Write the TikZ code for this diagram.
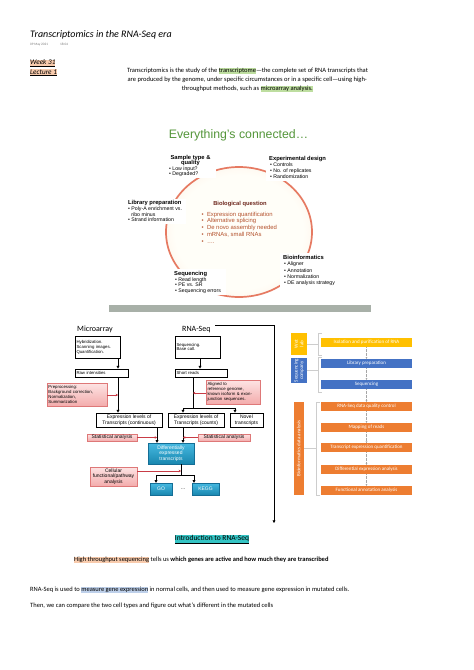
\documentclass[tikz,border=0pt]{standalone}
\usepackage{fontspec}
\setmainfont{Carlito}
\newfontfamily\arialf{Liberation Sans}
\usetikzlibrary{arrows.meta}
\definecolor{hlgreen}{RGB}{190,222,160}
\definecolor{hlorange}{RGB}{248,203,173}
\definecolor{hlcyan}{RGB}{52,196,196}
\definecolor{hlblue}{RGB}{190,208,234}
\definecolor{evgreen}{RGB}{84,150,58}
\definecolor{cinner}{RGB}{255,254,248}
\definecolor{couter}{RGB}{248,210,184}
\definecolor{cborder}{RGB}{230,122,98}
\definecolor{bqtitle}{RGB}{110,40,30}
\definecolor{bqtext}{RGB}{180,82,45}
\definecolor{pinktop}{RGB}{253,228,228}
\definecolor{pinkbot}{RGB}{243,172,172}
\definecolor{pinkdraw}{RGB}{222,120,120}
\definecolor{redarr}{RGB}{200,60,70}
\definecolor{detop}{RGB}{70,185,225}
\definecolor{debot}{RGB}{25,135,175}
\definecolor{dedraw}{RGB}{20,110,150}
\definecolor{wyellow}{RGB}{255,192,0}
\definecolor{wblue}{RGB}{68,114,196}
\definecolor{worange}{RGB}{237,125,49}
\definecolor{bargray}{RGB}{168,176,168}
\definecolor{datec}{RGB}{120,120,120}
\definecolor{brkgray}{RGB}{205,205,205}
\pgfdeclareradialshading{circsh}{\pgfpoint{0bp}{0bp}}{color(0bp)=(cinner); color(22bp)=(cinner); color(50bp)=(couter); color(52bp)=(couter)}
\newcommand\hlbox[2]{\begingroup\setlength{\fboxsep}{0pt}\colorbox{#1}{\vphantom{Ag}#2}\endgroup}
\tikzset{
  txt/.style={inner sep=0pt, anchor=base west, font=\fontsize{6.5}{7.8}\selectfont},
  ctxt/.style={txt, anchor=base},
  cl/.style={inner sep=0pt, anchor=base west, font=\arialf\fontsize{5.2}{6}\selectfont},
  clt/.style={inner sep=0pt, anchor=base west, font=\arialf\bfseries\fontsize{5.8}{6.5}\selectfont},
  bq/.style={inner sep=0pt, anchor=base west, text=bqtext, font=\arialf\fontsize{5.9}{7}\selectfont},
  flowbox/.style={draw=black, line width=0.9pt, fill=white, inner sep=1.5pt, align=left, font=\arialf\fontsize{4.3}{4.9}\selectfont},
  expbox/.style={draw=black, line width=0.9pt, fill=white, inner sep=0.5pt, align=center, font=\arialf\fontsize{5}{5.6}\selectfont},
  pinkbox/.style={draw=pinkdraw, line width=0.4pt, top color=pinktop, bottom color=pinkbot, inner sep=1.5pt, align=left, font=\arialf\fontsize{4.3}{4.9}\selectfont},
  pinkc/.style={pinkbox, align=center, font=\arialf\fontsize{5}{5.6}\selectfont},
  debox/.style={draw=dedraw, line width=0.4pt, top color=detop, bottom color=debot, inner sep=0.5pt, align=center, text=white, font=\arialf\fontsize{5}{5.6}\selectfont},
  arr/.style={draw=black, line width=0.8pt, -{Triangle[length=2.6pt,width=2.8pt]}},
  rarr/.style={draw=redarr, line width=0.6pt, -{Stealth[length=2.4pt,width=2.6pt]}},
  bar/.style={inner sep=0pt, minimum width=91pt, minimum height=9pt, text=white, font=\fontsize{5}{6}\selectfont},
  sidebox/.style={inner sep=0pt, rotate=90, text=white, align=center, font=\fontsize{5}{5.6}\selectfont},
  darr/.style={draw=gray!70, line width=0.35pt, densely dotted, -{Stealth[length=1.6pt,width=1.6pt]}},
  brk/.style={draw=brkgray, line width=0.5pt},
  lab/.style={inner sep=0pt, anchor=base west, font=\fontsize{8}{9}\selectfont}
}
\begin{document}
\begin{tikzpicture}[x=1pt,y=-1pt]
\useasboundingbox (0,0) rectangle (474,670);
\fill[white] (0,0) rectangle (474,670);

% ---------- header ----------
\node[txt, font=\itshape\fontsize{10}{12}\selectfont] (title) at (30,37.5) {Transcriptomics in the RNA-Seq era};
\node[txt, text=datec, font=\fontsize{3.4}{4}\selectfont] (date) at (30,45) {09 May 2021};
\node[txt, text=datec, font=\fontsize{3.4}{4}\selectfont] (time) at (60,45) {18:04};
\node[txt, font=\itshape\fontsize{7.2}{8.6}\selectfont] (week) at (30,64.5) {\hlbox{hlorange}{\underline{Week 31}}};
\node[txt, font=\itshape\fontsize{7.2}{8.6}\selectfont] (lect) at (30,74) {\hlbox{hlorange}{\underline{Lecture 1}}};
\node[ctxt] (p1) at (247.5,72.7) {Transcriptomics is the study of the \hlbox{hlgreen}{transcriptome}—the complete set of RNA transcripts that};
\node[ctxt] (p2) at (247.3,81.7) {are produced by the genome, under specific circumstances or in a specific cell—using high-};
\node[ctxt] (p3) at (247.3,90.7) {throughput methods, such as \hlbox{hlgreen}{microarray analysis.}};

% ---------- everything's connected ----------
\node[inner sep=0pt, anchor=base, text=evgreen, font=\arialf\fontsize{12.3}{14}\selectfont] (evc) at (238.5,138.3) {Everything’s connected…};
\shade[shading=circsh] (239,232) ellipse (73pt and 65pt);
\draw[cborder, line width=1.7pt] (239,232) ellipse (73pt and 65pt);

\fill[white] (165,153) rectangle (216,178);
\fill[white] (266,155) rectangle (330,181);
\fill[white] (125,199) rectangle (186,224);
\fill[white] (280,253) rectangle (340,287);
\fill[white] (171,269) rectangle (226,295);

\node[clt, anchor=base] (st1) at (190.5,159.4) {Sample type \&};
\node[clt, anchor=base] (st2) at (190.5,164.9) {quality};
\node[cl] (st3) at (169,170.2) {\textbullet\ Low input?};
\node[cl] (st4) at (169,175.4) {\textbullet\ Degraded?};

\node[clt] (ed1) at (269,160.7) {Experimental design};
\node[cl] (ed2) at (270,166.7) {\textbullet\ Controls};
\node[cl] (ed3) at (270,172.7) {\textbullet\ No. of replicates};
\node[cl] (ed4) at (270,178.7) {\textbullet\ Randomization};

\node[clt] (lp1) at (128,204.4) {Library preparation};
\node[cl] (lp2) at (128,210.7) {\textbullet\ Poly-A enrichment vs.};
\node[cl] (lp3) at (128,216.2) {\phantom{\textbullet}\ ribo minus};
\node[cl] (lp4) at (128,221.7) {\textbullet\ Strand information};

\node[clt, anchor=base, text=bqtitle, font=\arialf\bfseries\fontsize{5.8}{7}\selectfont] (bq1) at (240,205.7) {Biological question};
\node[bq] (bq2) at (201.5,216) {\textbullet\ \ Expression quantification};
\node[bq] (bq3) at (201.5,222.8) {\textbullet\ \ Alternative splicing};
\node[bq] (bq4) at (201.5,229.7) {\textbullet\ \ De novo assembly needed};
\node[bq] (bq5) at (201.5,236.6) {\textbullet\ \ mRNAs, small RNAs};
\node[bq] (bq6) at (201.5,243.5) {\textbullet\ \ ….};

\node[clt] (bi1) at (283,259.4) {Bioinformatics};
\node[cl] (bi2) at (284,265.7) {\textbullet\ Aligner};
\node[cl] (bi3) at (284,272.2) {\textbullet\ Annotation};
\node[cl] (bi4) at (284,278.3) {\textbullet\ Normalization};
\node[cl] (bi5) at (284,284.4) {\textbullet\ DE analysis strategy};

\node[clt] (sq1) at (174,275) {Sequencing};
\node[cl] (sq2) at (175,281) {\textbullet\ Read length};
\node[cl] (sq3) at (175,286.8) {\textbullet\ PE vs. SR};
\node[cl] (sq4) at (175,292.7) {\textbullet\ Sequencing errors};

% ---------- separator ----------
\fill[bargray] (109,305) rectangle (371,312);

% ---------- microarray / RNA-seq flow ----------
\node[lab] (micro) at (77,331) {Microarray};
\node[lab] (rnaseq) at (182,331) {RNA-Seq};

\node[flowbox, text width=42pt, minimum height=22pt] (hyb) at (97.5,347) {Hybridization.\\Scanning images.\\Quantification.};
\node[flowbox, text width=50pt, minimum height=8pt] (raw) at (101.5,373) {Raw intensities};
\node[pinkbox, text width=57pt, minimum height=23pt] (pre) at (77,394.5) {Preprocessing:\\Background correction,\\Normalization,\\Summarization};

\node[flowbox, text width=42pt, minimum height=22pt] (seq) at (197.5,347) {Sequencing.\\Base call.};
\node[flowbox, text width=49pt, minimum height=8pt] (short) at (201,373) {Short reads};
\node[pinkbox, text width=51pt, minimum height=24pt] (align) at (233,392) {Aligned to\\reference genome,\\known isoform \& exon-\\junction sequences.};

\node[expbox, minimum width=66pt, minimum height=14pt] (cont) at (129,420) {Expression levels of\\Transcripts (continuous)};
\node[expbox, minimum width=56pt, minimum height=14pt] (counts) at (196,420) {Expression levels of\\Transcripts (counts)};
\node[expbox, minimum width=33pt, minimum height=14pt] (novel) at (246.5,420) {Novel\\transcripts};

\node[pinkc, minimum width=50pt, minimum height=7pt, inner sep=0.3pt] (statl) at (112,437.5) {Statistical analysis};
\node[pinkc, minimum width=52pt, minimum height=7pt, inner sep=0.3pt] (statr) at (224,437.5) {Statistical analysis};
\node[debox, minimum width=46pt, minimum height=21pt] (de) at (171,453.5) {Differentially\\expressed\\transcripts};
\node[pinkc, minimum width=47pt, minimum height=19pt, inner sep=0.3pt] (cell) at (113.5,476.5) {Cellular\\functional/pathway\\analysis};
\node[debox, minimum width=22pt, minimum height=12pt] (go) at (161,489) {GO};
\node[inner sep=0pt, font=\arialf\fontsize{5}{6}\selectfont] (dots) at (183,489.5) {…};
\node[debox, minimum width=27pt, minimum height=12pt] (kegg) at (205.5,489) {KEGG};

\coordinate (j1) at (118,395);
\coordinate (j2) at (193,393);
\coordinate (j3) at (157,437.5);
\coordinate (j4) at (183,437.5);
\coordinate (j5) at (181,471);
\coordinate (b1) at (193,408);
\coordinate (b2) at (181,475);
\coordinate (r0) at (215,325);
\coordinate (r1) at (274,325);
\coordinate (rend) at (274,523);

\draw[arr] (hyb.south -| j1) -- (raw.north -| j1);
\draw[arr] (raw.south -| j1) -- (cont.north -| j1);
\draw[rarr] (pre.east |- j1) -- (j1);
\draw[arr] (seq.south -| 200,0) -- (short.north -| 200,0);
\draw[line width=0.8pt] (short.south -| b1) -- (b1);
\draw[arr] (b1) -| (counts.north -| j4);
\draw[arr] (b1) -| (novel.north -| 235,0);
\draw[rarr] (align.west |- j2) -- (j2);
\draw[arr] (cont.south -| j3) -- (de.north -| j3);
\draw[arr] (counts.south -| j4) -- (de.north -| j4);
\draw[rarr] (statl.east) -- (j3);
\draw[rarr] (statr.west) -- (j4);
\draw[line width=0.8pt] (de.south -| b2) -- (b2);
\draw[arr] (b2) -| (go.north -| 156,0);
\draw[arr] (b2) -| (kegg.north -| 194,0);
\draw[rarr] (cell.east |- j5) -- (j5);
\draw[line width=0.6pt, -{Triangle[length=2.6pt,width=2.8pt]}] (r0) -- (r1) -- (rend);

% ---------- RNA-seq workflow ----------
\node[sidebox, fill=wyellow, minimum width=22pt, minimum height=16pt] (wet) at (299,344) {Wet\\lab};
\node[sidebox, fill=wblue, minimum width=25pt, minimum height=16pt] (comp) at (299,370.5) {Sequencing\\company};
\node[sidebox, fill=worange, minimum width=93pt, minimum height=10pt] (bioinf) at (299,448.5) {Bioinformatics data analysis};

\node[bar, fill=wyellow] (iso) at (366.5,342.5) {Isolation and purification of RNA};
\node[bar, fill=wblue] (lib) at (366.5,363.5) {Library preparation};
\node[bar, fill=wblue] (sqc) at (366.5,384.5) {Sequencing};
\node[bar, fill=worange] (qc) at (366.5,406.5) {RNA-Seq data quality control};
\node[bar, fill=worange] (map) at (366.5,427.5) {Mapping of reads};
\node[bar, fill=worange] (quant) at (366.5,447.5) {Transcript expression quantification};
\node[bar, fill=worange] (dea) at (366.5,469.5) {Differential expression analysis};
\node[bar, fill=worange] (func) at (366.5,490.5) {Functional annotation analysis};

\draw[darr] (iso.south) -- (lib.north);
\draw[darr] (lib.south) -- (sqc.north);
\draw[darr] (sqc.south) -- (qc.north);
\draw[darr] (qc.south) -- (map.north);
\draw[darr] (map.south) -- (quant.north);
\draw[darr] (quant.south) -- (dea.north);
\draw[darr] (dea.south) -- (func.north);

\draw[brk] (322,333) -- (318,333) -- (318,355) -- (322,355);
\draw[brk] (wet.south) -- (wet.south -| 318,0);
\draw[brk] (322,357) -- (318,357) -- (318,392) -- (322,392);
\draw[brk] (comp.south) -- (comp.south -| 318,0);
\draw[brk] (320,402) -- (316,402) -- (316,495) -- (320,495);
\draw[brk] (bioinf.south) -- (bioinf.south -| 316,0);

% ---------- bottom text ----------
\node[ctxt, font=\fontsize{7.5}{9}\selectfont] (intro) at (212,540.5) {\hlbox{hlcyan}{\underline{Introduction to RNA-Seq}}};
\node[txt] (high) at (74,561.5) {\hlbox{hlorange}{High throughput sequencing} tells us \textbf{which genes are active and how much they are transcribed}};
\node[txt] (used) at (30,591.5) {RNA-Seq is used to \hlbox{hlblue}{measure gene expression} in normal cells, and then used to measure gene expression in mutated cells.};
\node[txt] (then) at (30,607.5) {Then, we can compare the two cell types and figure out what’s different in the mutated cells};
\end{tikzpicture}
\end{document}
